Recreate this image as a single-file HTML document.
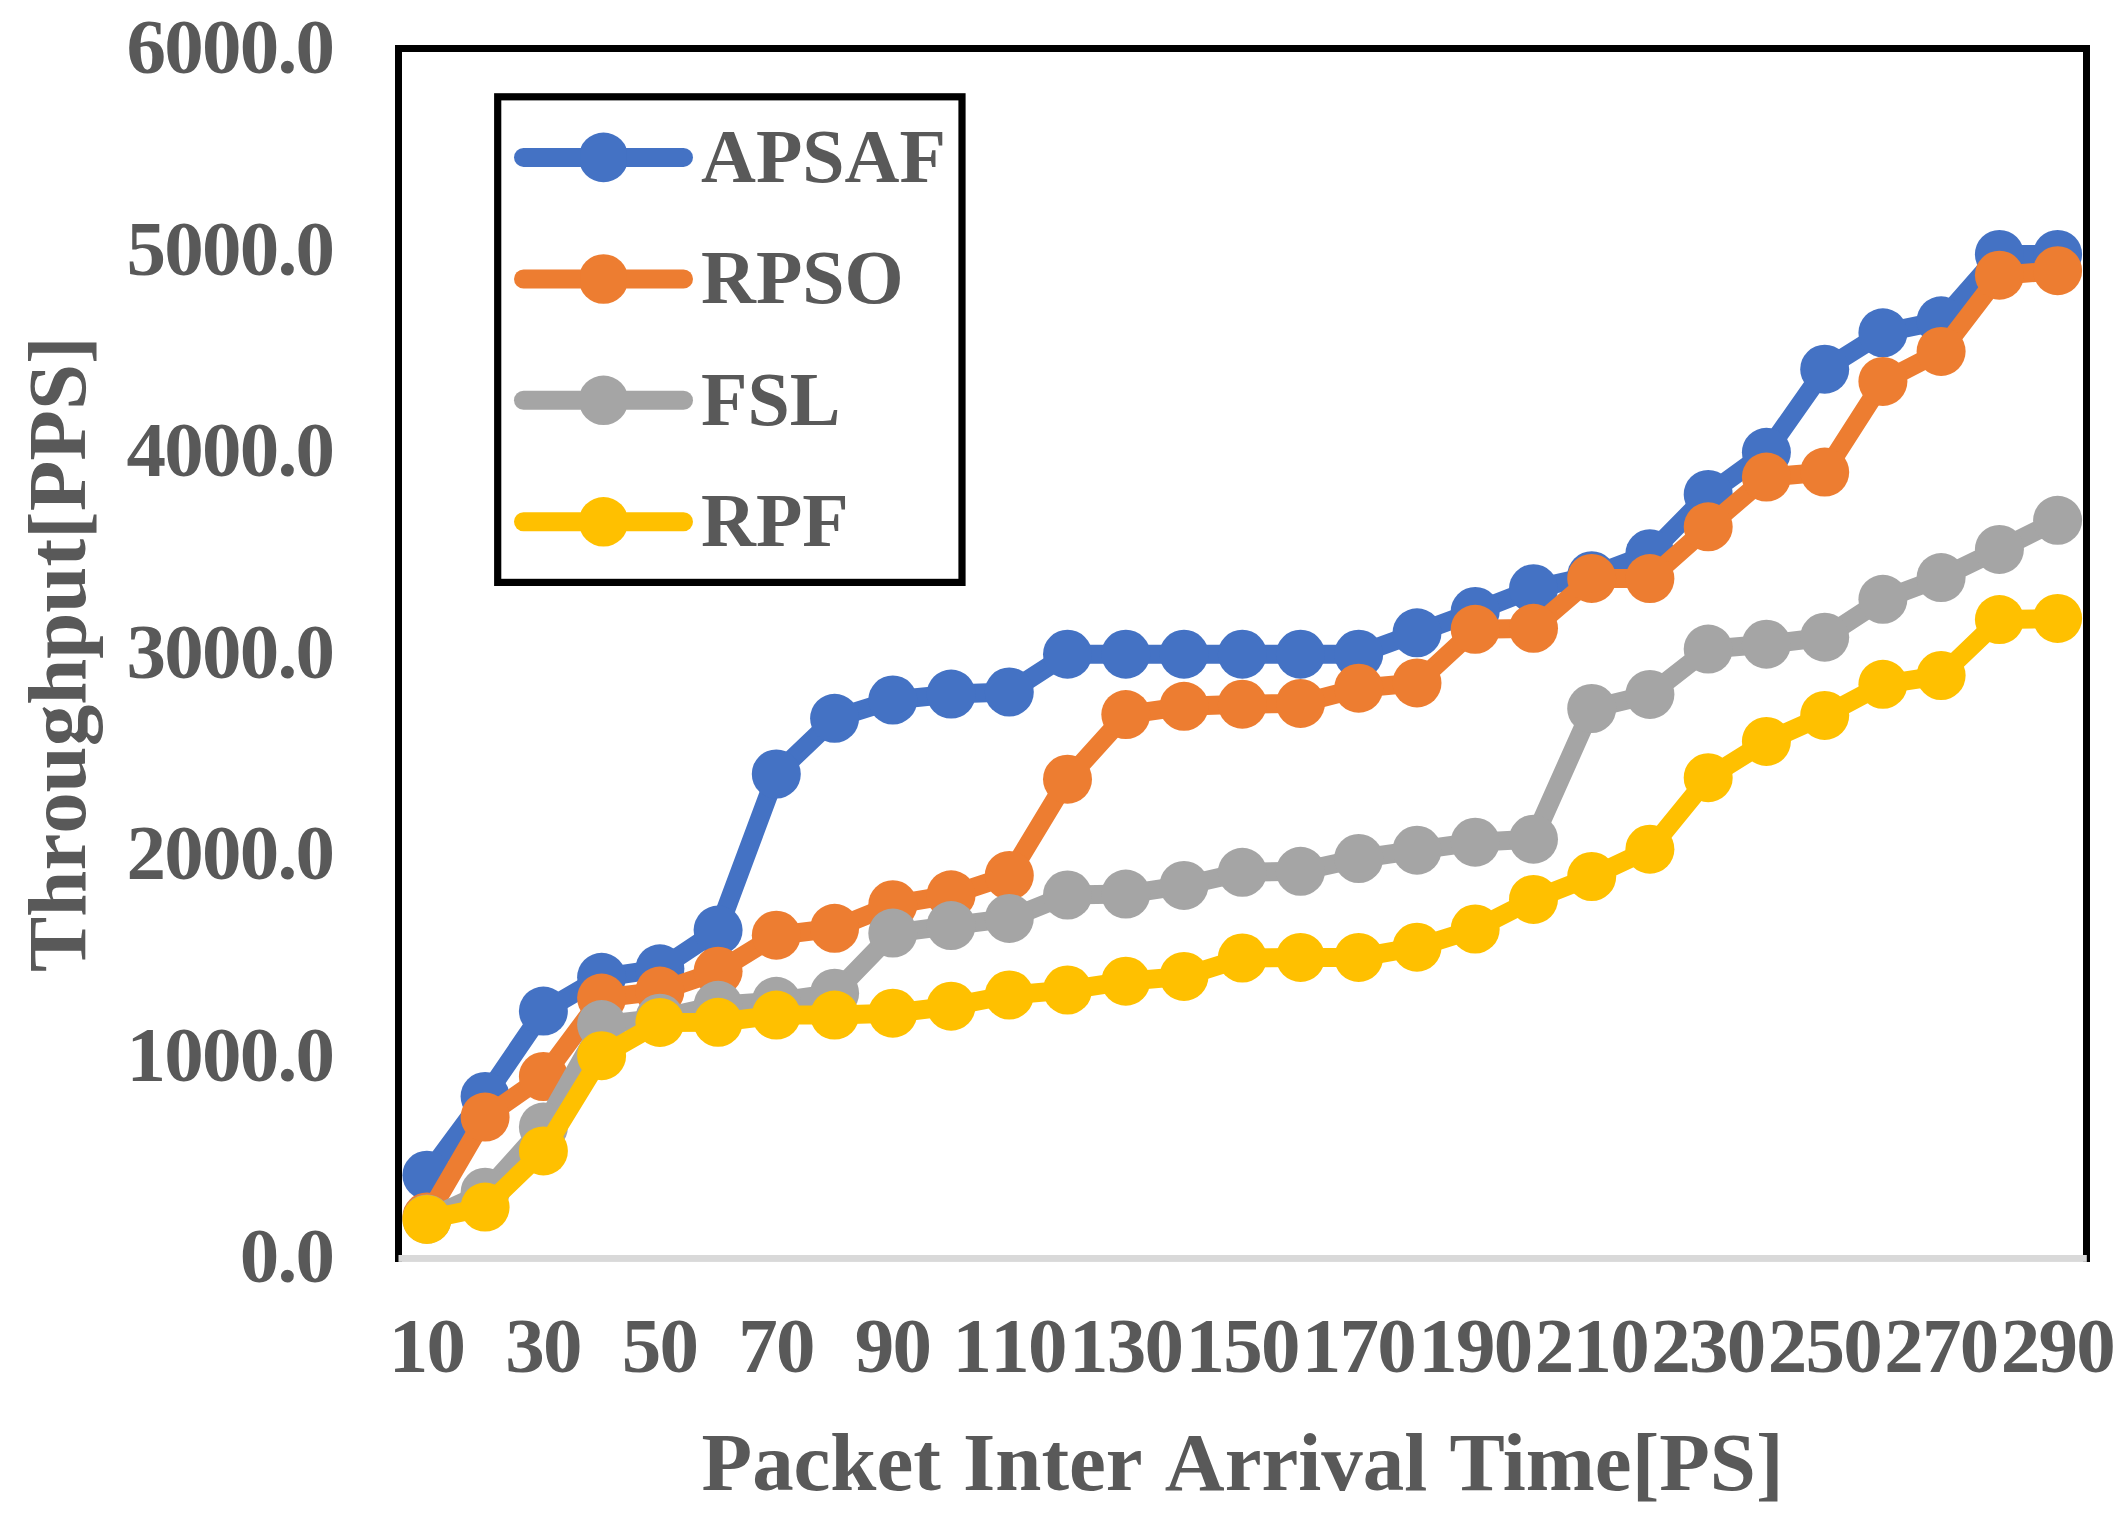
<!DOCTYPE html>
<html lang="en"><head><meta charset="utf-8"><title>Throughput vs Packet Inter Arrival Time</title>
<style>html,body{margin:0;padding:0;background:#fff}body{width:2124px;height:1517px;overflow:hidden}svg{display:block}text{font-family:"Liberation Serif",serif;font-weight:bold;font-kerning:none;fill:#595959}</style></head><body>
<svg width="2124" height="1517" viewBox="0 0 2124 1517">
<rect x="0" y="0" width="2124" height="1517" fill="#ffffff"/>
<polyline points="426.9,1175.2 485.1,1096.5 543.4,1011.1 601.6,977.3 659.9,968.8 718.1,930.1 776.3,774.0 834.6,718.3 892.8,700.0 951.1,694.1 1009.3,692.0 1067.5,654.2 1125.8,654.2 1184.0,654.2 1242.3,654.2 1300.5,654.2 1358.7,654.2 1417.0,632.8 1475.2,611.5 1533.5,588.7 1591.7,575.7 1649.9,553.7 1708.2,494.4 1766.4,452.3 1824.7,369.2 1882.9,332.8 1941.1,320.8 1999.4,254.4 2057.6,254.4" fill="none" stroke="#4472C4" stroke-width="19" stroke-linejoin="round" stroke-linecap="round"/>
<g fill="#4472C4">
<circle cx="426.9" cy="1175.2" r="24.5"/>
<circle cx="485.1" cy="1096.5" r="24.5"/>
<circle cx="543.4" cy="1011.1" r="24.5"/>
<circle cx="601.6" cy="977.3" r="24.5"/>
<circle cx="659.9" cy="968.8" r="24.5"/>
<circle cx="718.1" cy="930.1" r="24.5"/>
<circle cx="776.3" cy="774.0" r="24.5"/>
<circle cx="834.6" cy="718.3" r="24.5"/>
<circle cx="892.8" cy="700.0" r="24.5"/>
<circle cx="951.1" cy="694.1" r="24.5"/>
<circle cx="1009.3" cy="692.0" r="24.5"/>
<circle cx="1067.5" cy="654.2" r="24.5"/>
<circle cx="1125.8" cy="654.2" r="24.5"/>
<circle cx="1184.0" cy="654.2" r="24.5"/>
<circle cx="1242.3" cy="654.2" r="24.5"/>
<circle cx="1300.5" cy="654.2" r="24.5"/>
<circle cx="1358.7" cy="654.2" r="24.5"/>
<circle cx="1417.0" cy="632.8" r="24.5"/>
<circle cx="1475.2" cy="611.5" r="24.5"/>
<circle cx="1533.5" cy="588.7" r="24.5"/>
<circle cx="1591.7" cy="575.7" r="24.5"/>
<circle cx="1649.9" cy="553.7" r="24.5"/>
<circle cx="1708.2" cy="494.4" r="24.5"/>
<circle cx="1766.4" cy="452.3" r="24.5"/>
<circle cx="1824.7" cy="369.2" r="24.5"/>
<circle cx="1882.9" cy="332.8" r="24.5"/>
<circle cx="1941.1" cy="320.8" r="24.5"/>
<circle cx="1999.4" cy="254.4" r="24.5"/>
<circle cx="2057.6" cy="254.4" r="24.5"/>
</g>
<polyline points="426.9,1217.0 485.1,1117.1 543.4,1076.5 601.6,998.1 659.9,991.1 718.1,971.2 776.3,935.2 834.6,928.3 892.8,904.7 951.1,894.8 1009.3,875.4 1067.5,779.2 1125.8,714.6 1184.0,706.3 1242.3,704.2 1300.5,703.4 1358.7,688.2 1417.0,682.9 1475.2,629.3 1533.5,628.3 1591.7,578.4 1649.9,578.6 1708.2,526.8 1766.4,477.1 1824.7,472.1 1882.9,381.4 1941.1,351.4 1999.4,275.2 2057.6,270.7" fill="none" stroke="#ED7D31" stroke-width="19" stroke-linejoin="round" stroke-linecap="round"/>
<g fill="#ED7D31">
<circle cx="426.9" cy="1217.0" r="24.5"/>
<circle cx="485.1" cy="1117.1" r="24.5"/>
<circle cx="543.4" cy="1076.5" r="24.5"/>
<circle cx="601.6" cy="998.1" r="24.5"/>
<circle cx="659.9" cy="991.1" r="24.5"/>
<circle cx="718.1" cy="971.2" r="24.5"/>
<circle cx="776.3" cy="935.2" r="24.5"/>
<circle cx="834.6" cy="928.3" r="24.5"/>
<circle cx="892.8" cy="904.7" r="24.5"/>
<circle cx="951.1" cy="894.8" r="24.5"/>
<circle cx="1009.3" cy="875.4" r="24.5"/>
<circle cx="1067.5" cy="779.2" r="24.5"/>
<circle cx="1125.8" cy="714.6" r="24.5"/>
<circle cx="1184.0" cy="706.3" r="24.5"/>
<circle cx="1242.3" cy="704.2" r="24.5"/>
<circle cx="1300.5" cy="703.4" r="24.5"/>
<circle cx="1358.7" cy="688.2" r="24.5"/>
<circle cx="1417.0" cy="682.9" r="24.5"/>
<circle cx="1475.2" cy="629.3" r="24.5"/>
<circle cx="1533.5" cy="628.3" r="24.5"/>
<circle cx="1591.7" cy="578.4" r="24.5"/>
<circle cx="1649.9" cy="578.6" r="24.5"/>
<circle cx="1708.2" cy="526.8" r="24.5"/>
<circle cx="1766.4" cy="477.1" r="24.5"/>
<circle cx="1824.7" cy="472.1" r="24.5"/>
<circle cx="1882.9" cy="381.4" r="24.5"/>
<circle cx="1941.1" cy="351.4" r="24.5"/>
<circle cx="1999.4" cy="275.2" r="24.5"/>
<circle cx="2057.6" cy="270.7" r="24.5"/>
</g>
<polyline points="426.9,1219.0 485.1,1192.2 543.4,1127.1 601.6,1024.6 659.9,1018.2 718.1,1005.3 776.3,1001.3 834.6,993.2 892.8,933.1 951.1,925.6 1009.3,918.4 1067.5,895.0 1125.8,894.1 1184.0,885.4 1242.3,872.3 1300.5,871.3 1358.7,858.5 1417.0,850.2 1475.2,842.2 1533.5,839.2 1591.7,708.5 1649.9,694.4 1708.2,649.1 1766.4,644.2 1824.7,637.2 1882.9,599.3 1941.1,577.6 1999.4,549.4 2057.6,520.3" fill="none" stroke="#A5A5A5" stroke-width="19" stroke-linejoin="round" stroke-linecap="round"/>
<g fill="#A5A5A5">
<circle cx="426.9" cy="1219.0" r="24.5"/>
<circle cx="485.1" cy="1192.2" r="24.5"/>
<circle cx="543.4" cy="1127.1" r="24.5"/>
<circle cx="601.6" cy="1024.6" r="24.5"/>
<circle cx="659.9" cy="1018.2" r="24.5"/>
<circle cx="718.1" cy="1005.3" r="24.5"/>
<circle cx="776.3" cy="1001.3" r="24.5"/>
<circle cx="834.6" cy="993.2" r="24.5"/>
<circle cx="892.8" cy="933.1" r="24.5"/>
<circle cx="951.1" cy="925.6" r="24.5"/>
<circle cx="1009.3" cy="918.4" r="24.5"/>
<circle cx="1067.5" cy="895.0" r="24.5"/>
<circle cx="1125.8" cy="894.1" r="24.5"/>
<circle cx="1184.0" cy="885.4" r="24.5"/>
<circle cx="1242.3" cy="872.3" r="24.5"/>
<circle cx="1300.5" cy="871.3" r="24.5"/>
<circle cx="1358.7" cy="858.5" r="24.5"/>
<circle cx="1417.0" cy="850.2" r="24.5"/>
<circle cx="1475.2" cy="842.2" r="24.5"/>
<circle cx="1533.5" cy="839.2" r="24.5"/>
<circle cx="1591.7" cy="708.5" r="24.5"/>
<circle cx="1649.9" cy="694.4" r="24.5"/>
<circle cx="1708.2" cy="649.1" r="24.5"/>
<circle cx="1766.4" cy="644.2" r="24.5"/>
<circle cx="1824.7" cy="637.2" r="24.5"/>
<circle cx="1882.9" cy="599.3" r="24.5"/>
<circle cx="1941.1" cy="577.6" r="24.5"/>
<circle cx="1999.4" cy="549.4" r="24.5"/>
<circle cx="2057.6" cy="520.3" r="24.5"/>
</g>
<polyline points="426.9,1219.4 485.1,1207.1 543.4,1150.9 601.6,1055.7 659.9,1022.4 718.1,1022.3 776.3,1015.1 834.6,1015.1 892.8,1013.2 951.1,1006.2 1009.3,995.0 1067.5,990.0 1125.8,981.2 1184.0,976.4 1242.3,958.0 1300.5,957.4 1358.7,957.4 1417.0,947.2 1475.2,929.0 1533.5,899.4 1591.7,876.5 1649.9,849.2 1708.2,777.7 1766.4,741.4 1824.7,715.4 1882.9,684.3 1941.1,675.5 1999.4,619.6 2057.6,618.4" fill="none" stroke="#FFC000" stroke-width="19" stroke-linejoin="round" stroke-linecap="round"/>
<g fill="#FFC000">
<circle cx="426.9" cy="1219.4" r="24.5"/>
<circle cx="485.1" cy="1207.1" r="24.5"/>
<circle cx="543.4" cy="1150.9" r="24.5"/>
<circle cx="601.6" cy="1055.7" r="24.5"/>
<circle cx="659.9" cy="1022.4" r="24.5"/>
<circle cx="718.1" cy="1022.3" r="24.5"/>
<circle cx="776.3" cy="1015.1" r="24.5"/>
<circle cx="834.6" cy="1015.1" r="24.5"/>
<circle cx="892.8" cy="1013.2" r="24.5"/>
<circle cx="951.1" cy="1006.2" r="24.5"/>
<circle cx="1009.3" cy="995.0" r="24.5"/>
<circle cx="1067.5" cy="990.0" r="24.5"/>
<circle cx="1125.8" cy="981.2" r="24.5"/>
<circle cx="1184.0" cy="976.4" r="24.5"/>
<circle cx="1242.3" cy="958.0" r="24.5"/>
<circle cx="1300.5" cy="957.4" r="24.5"/>
<circle cx="1358.7" cy="957.4" r="24.5"/>
<circle cx="1417.0" cy="947.2" r="24.5"/>
<circle cx="1475.2" cy="929.0" r="24.5"/>
<circle cx="1533.5" cy="899.4" r="24.5"/>
<circle cx="1591.7" cy="876.5" r="24.5"/>
<circle cx="1649.9" cy="849.2" r="24.5"/>
<circle cx="1708.2" cy="777.7" r="24.5"/>
<circle cx="1766.4" cy="741.4" r="24.5"/>
<circle cx="1824.7" cy="715.4" r="24.5"/>
<circle cx="1882.9" cy="684.3" r="24.5"/>
<circle cx="1941.1" cy="675.5" r="24.5"/>
<circle cx="1999.4" cy="619.6" r="24.5"/>
<circle cx="2057.6" cy="618.4" r="24.5"/>
</g>
<path d="M398.5 1262 V48.5 H2086.5 V1262" fill="none" stroke="#000" stroke-width="7" stroke-linejoin="miter"/>
<rect x="398.5" y="1255" width="1688.3" height="6.9" fill="#D9D9D9"/>
<defs><clipPath id="lk"><rect x="580.6" y="90" width="45.8" height="500"/></clipPath></defs>
<rect x="497.7" y="96.8" width="464.3" height="485.6" fill="#fff" stroke="#000" stroke-width="7.2"/>
<line x1="523.5" y1="157.4" x2="683.5" y2="157.4" stroke="#4472C4" stroke-width="19" stroke-linecap="round"/>
<circle cx="603.5" cy="157.4" r="24.8" fill="#4472C4" clip-path="url(#lk)"/>
<text x="701" y="181.7" font-size="76">APSAF</text>
<line x1="523.5" y1="279" x2="683.5" y2="279" stroke="#ED7D31" stroke-width="19" stroke-linecap="round"/>
<circle cx="603.5" cy="279" r="24.8" fill="#ED7D31" clip-path="url(#lk)"/>
<text x="701" y="303.3" font-size="76">RPSO</text>
<line x1="523.5" y1="400.3" x2="683.5" y2="400.3" stroke="#A5A5A5" stroke-width="19" stroke-linecap="round"/>
<circle cx="603.5" cy="400.3" r="24.8" fill="#A5A5A5" clip-path="url(#lk)"/>
<text x="701" y="424.6" font-size="76">FSL</text>
<line x1="523.5" y1="521.8" x2="683.5" y2="521.8" stroke="#FFC000" stroke-width="19" stroke-linecap="round"/>
<circle cx="603.5" cy="521.8" r="24.8" fill="#FFC000" clip-path="url(#lk)"/>
<text x="701" y="546.1" font-size="76">RPF</text>
<text x="333.2" y="1282.4" font-size="79" letter-spacing="-1.75" text-anchor="end">0.0</text>
<text x="333.2" y="1080.9" font-size="79" letter-spacing="-1.75" text-anchor="end">1000.0</text>
<text x="333.2" y="879.4" font-size="79" letter-spacing="-1.75" text-anchor="end">2000.0</text>
<text x="333.2" y="677.9" font-size="79" letter-spacing="-1.75" text-anchor="end">3000.0</text>
<text x="333.2" y="476.4" font-size="79" letter-spacing="-1.75" text-anchor="end">4000.0</text>
<text x="333.2" y="274.9" font-size="79" letter-spacing="-1.75" text-anchor="end">5000.0</text>
<text x="333.2" y="73.4" font-size="79" letter-spacing="-1.75" text-anchor="end">6000.0</text>
<text x="426.6" y="1371.6" font-size="79" letter-spacing="-1.75" text-anchor="middle">10</text>
<text x="543.1" y="1371.6" font-size="79" letter-spacing="-1.75" text-anchor="middle">30</text>
<text x="659.6" y="1371.6" font-size="79" letter-spacing="-1.75" text-anchor="middle">50</text>
<text x="776.0" y="1371.6" font-size="79" letter-spacing="-1.75" text-anchor="middle">70</text>
<text x="892.5" y="1371.6" font-size="79" letter-spacing="-1.75" text-anchor="middle">90</text>
<text x="1009.0" y="1371.6" font-size="79" letter-spacing="-1.75" text-anchor="middle">110</text>
<text x="1125.5" y="1371.6" font-size="79" letter-spacing="-1.75" text-anchor="middle">130</text>
<text x="1242.0" y="1371.6" font-size="79" letter-spacing="-1.75" text-anchor="middle">150</text>
<text x="1358.4" y="1371.6" font-size="79" letter-spacing="-1.75" text-anchor="middle">170</text>
<text x="1474.9" y="1371.6" font-size="79" letter-spacing="-1.75" text-anchor="middle">190</text>
<text x="1591.4" y="1371.6" font-size="79" letter-spacing="-1.75" text-anchor="middle">210</text>
<text x="1707.9" y="1371.6" font-size="79" letter-spacing="-1.75" text-anchor="middle">230</text>
<text x="1824.4" y="1371.6" font-size="79" letter-spacing="-1.75" text-anchor="middle">250</text>
<text x="1940.8" y="1371.6" font-size="79" letter-spacing="-1.75" text-anchor="middle">270</text>
<text x="2057.3" y="1371.6" font-size="79" letter-spacing="-1.75" text-anchor="middle">290</text>
<text x="701.5" y="1490" font-size="82.9" word-spacing="1.5">Packet Inter Arrival T<tspan dx="-2">ime[PS]</tspan></text>
<text transform="translate(85.4 972) rotate(-90)" font-size="82.9">Throughput[PPS]</text>
</svg></body></html>
